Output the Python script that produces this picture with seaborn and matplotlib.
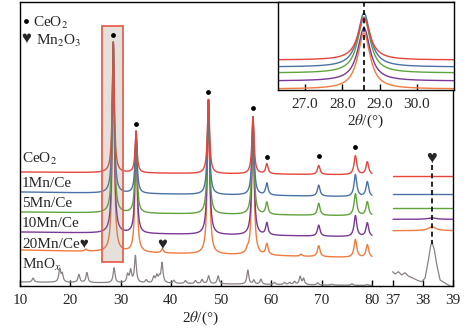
import numpy as np
import pandas as pd
import matplotlib
matplotlib.use("Agg")
import matplotlib.pyplot as plt
import seaborn as sns
from matplotlib.patches import Rectangle

W, H = 474, 334
sns.set_style("ticks")
plt.rcParams["font.family"] = ["Liberation Serif", "DejaVu Sans"]
plt.rcParams["mathtext.fontset"] = "stix"

# ---------------- data ----------------
series = ["CeO2", "1Mn/Ce", "5Mn/Ce", "10Mn/Ce", "20Mn/Ce"]
labels = ["CeO$_2$", "1Mn/Ce", "5Mn/Ce", "10Mn/Ce", "20Mn/Ce\u2665"]
colors = ["#e5453b", "#4b72a6", "#5fa43b", "#7b3895", "#f07b3e"]
gray = "#8a8282"

ceo2_pos = [28.55, 33.08, 47.48, 56.33, 59.09, 69.40, 76.70, 79.07]
ceo2_width = [0.24, 0.24, 0.26, 0.26, 0.28, 0.30, 0.32, 0.32]
base_left = [114, 94, 74, 54, 36]
base_right = [111, 89, 70, 49, 28]
amp_CeO2 = [131, 41, 74, 57, 10, 9, 19, 13]
amp_1Mn = [151, 62, 95, 78, 12, 11, 22, 15]
amp_5Mn = [171, 81, 114, 98, 12, 12, 22, 14]
amp_10Mn = [191, 102, 135, 118, 12, 11, 21, 14]
amp_20Mn = [210, 121, 154, 138, 11, 11, 18, 13]
amps = [amp_CeO2, amp_1Mn, amp_5Mn, amp_10Mn, amp_20Mn]

mn_pos_20 = [23.1, 38.3, 55.2, 65.9]
mn_amp_20 = [2, 4, 3, 2]

mnox_base = [4, 0.5]
mnox_pos = [12.6, 17.9, 18.4, 21.7, 23.3, 28.7, 31.4, 32.0, 32.95, 35.1, 36.6,
            37.2, 37.7, 38.25, 40.6, 42.9, 44.9, 46.2, 47.5, 49.4, 55.3, 56.5,
            57.9, 60.6, 62.6, 63.6, 64.6, 65.7, 66.4, 69.2, 72.0, 76.0, 79.0]
mnox_amp = [4, 13, 8, 8, 10, 15, 8, 12, 27, 3, 6, 7, 5, 20, 3, 3, 3, 4, 8, 8,
            14, 4, 5, 2, 2, 2, 3, 8, 6, 2, 1, 1.5, 1]
mnox_width = 0.22

dot_x = [28.55, 33.08, 47.48, 56.33, 59.09, 69.40, 76.70]
dot_y = [251, 162, 194, 178, 129, 130, 139]

# right-hand section 37-39
r_base = [110, 91.7, 77.7, 66.7, 55.3]
r_bump = [0, 0, 0, 1.5, 4]
r_bump_pos = 38.3
r_gray_x = [36.99, 37.07, 37.18, 37.29, 37.40, 37.51, 37.68, 37.84, 37.96, 38.07,
            38.18, 38.26, 38.31, 38.38, 38.46, 38.57, 38.73, 38.90, 39.01]
r_gray_y = [14.3, 12, 14.3, 11, 13.3, 10, 7.7, 5.3, 4.3, 8, 26, 41, 43, 36, 21,
            6, 3, 0, -0.7]

# inset
ins_base = [30, 23, 17, 9, 1]
ins_amp = [42, 54, 56, 53, 56]
ins_pos = 28.58
ins_width = 0.2


def lor(x, pos, amp, g):
    y = np.zeros_like(x)
    gs = g if np.ndim(g) else [g] * len(pos)
    for p, a, w in zip(pos, amp, gs):
        y += a * w ** 2 / ((x - p) ** 2 + w ** 2)
    return y


# ---------------- figure ----------------
fig = plt.figure(figsize=(W / 100, H / 100), dpi=100)


def frac(l, t, r, b):
    return [l / W, 1 - b / H, (r - l) / W, (b - t) / H]


ax1 = fig.add_axes(frac(20, 1.5, 380, 286))
ax2 = fig.add_axes(frac(380, 1.5, 453.5, 286))
axi = fig.add_axes(frac(278, 1.5, 453.5, 90))

x1 = np.linspace(10, 80, 3501)
# MnOx
bg = np.interp(x1, [10, 80], mnox_base)
df = pd.DataFrame({"tt": x1, "I": bg + lor(x1, mnox_pos, mnox_amp, mnox_width)})
sns.lineplot(data=df, x="tt", y="I", ax=ax1, color=gray, lw=0.9, estimator=None)

for i in range(4, -1, -1):
    bg = np.interp(x1, [10, 80], [base_left[i], base_right[i]])
    y = bg + lor(x1, ceo2_pos, amps[i], ceo2_width)
    if i == 4:
        y = y + lor(x1, mn_pos_20, mn_amp_20, 0.25)
    df = pd.DataFrame({"tt": x1, "I": y})
    sns.lineplot(data=df, x="tt", y="I", ax=ax1, color=colors[i], lw=1.0,
                 estimator=None)

ax1.add_patch(Rectangle((26.3, 24), 4.2, 236, facecolor=(0.58, 0.5, 0.44, 0.24),
                        edgecolor="#e5614e", lw=1.3, zorder=4))
ax1.scatter(dot_x, dot_y, s=12, color="black", zorder=5, linewidths=0)

label_base = [123, 99, 79, 59, 38]
for lab, yb in zip(labels, label_base):
    ax1.text(10.4, yb, lab, fontsize=11, va="baseline", ha="left")
ax1.text(10.4, 17, "MnO$_x$", fontsize=11, va="baseline", ha="left")
ax1.text(38.3, 41, "\u2665", fontsize=12, ha="center", va="center")

# legend
ax1.scatter([11.2], [265], s=12, color="black", linewidths=0)
ax1.text(12.6, 259, "CeO$_2$", fontsize=11, va="baseline")
ax1.text(11.2, 247, "\u2665", fontsize=12, ha="center", va="center")
ax1.text(13.2, 241, "Mn$_2$O$_3$", fontsize=11, va="baseline")

ax1.set_xlim(10, 81.59)
ax1.set_ylim(0, 284.5)
ax1.set_xticks([10, 20, 30, 40, 50, 60, 70, 80])
ax1.set_yticks([])
ax1.set_xlabel("2$\\theta$/(°)", fontsize=11, labelpad=2)
ax1.set_ylabel("")
ax1.spines["right"].set_visible(False)

# right section
x2 = np.linspace(37.0, 39.0, 401)
r_gray = pd.DataFrame({"tt": r_gray_x, "I": r_gray_y})
sns.lineplot(data=r_gray, x="tt", y="I", ax=ax2, color=gray, lw=0.9,
             estimator=None, sort=False)
for i in range(4, -1, -1):
    y = r_base[i] + lor(x2, [r_bump_pos], [r_bump[i]], 0.15)
    df = pd.DataFrame({"tt": x2, "I": y})
    sns.lineplot(data=df, x="tt", y="I", ax=ax2, color=colors[i], lw=1.0,
                 estimator=None)
ax2.plot([38.3, 38.3], [121, 42], ls=(0, (3, 2)), color="black", lw=1.2)
ax2.text(38.3, 128, "\u2665", fontsize=13, ha="center", va="center")
ax2.set_xlim(36.567, 39.017)
ax2.set_ylim(0, 284.5)
ax2.set_xticks([37, 38, 39])
ax2.set_yticks([])
ax2.set_xlabel("")
ax2.set_ylabel("")
ax2.spines["left"].set_visible(False)

# inset
xi = np.linspace(26.2, 31.1, 1001)
for i in range(4, -1, -1):
    y = ins_base[i] + lor(xi, [ins_pos], [ins_amp[i]], ins_width)
    df = pd.DataFrame({"tt": xi, "I": y})
    sns.lineplot(data=df, x="tt", y="I", ax=axi, color=colors[i], lw=1.0,
                 estimator=None)
axi.axvline(ins_pos, ls=(0, (3, 2)), color="black", lw=1.2)
axi.set_xlim(26.277, 30.978)
axi.set_ylim(0, 88.5)
axi.set_xticks([27, 28, 29, 30])
axi.set_xticklabels(["27.0", "28.0", "29.0", "30.0"])
axi.set_yticks([])
axi.set_xlabel("2$\\theta$/(°)", fontsize=11, labelpad=1)
axi.set_ylabel("")

for ax in (ax1, ax2, axi):
    ax.tick_params(axis="x", direction="in", length=4, width=1, labelsize=11,
                   pad=6, color="black")
    for s in ax.spines.values():
        s.set_color("black")
        s.set_linewidth(1.0)
    ax.set_facecolor("white")

fig.savefig("out.png", dpi=100)
